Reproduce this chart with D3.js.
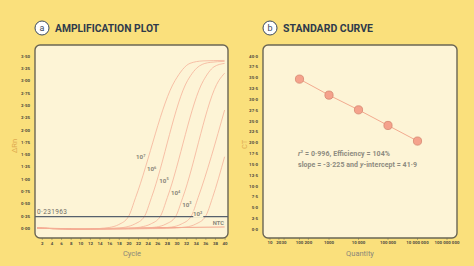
<!DOCTYPE html>
<html>
<head>
<meta charset="utf-8">
<script src="https://cdn.jsdelivr.net/npm/d3@7"></script>
<style>
html, body { margin: 0; padding: 0; background: #fae07c; }
svg { display: block; }
</style>
</head>
<body>
<div id="chart"></div>
<script>
// ---- data ----
const cycleTicks = d3.range(2, 41, 2);
const ampTicks = d3.range(0, 3.51, 0.25);
const threshold = 0.231963;

// amplification curves, [cycle, ΔRn]
const amp1e7 = [[1, 0], [6, -0.02], [10, -0.03], [14, -0.01], [16, 0.01], [18, 0.07], [20, 0.23], [21.5, 0.62], [29.7, 3.0], [32.8, 3.35], [35.5, 3.4], [40, 3.41]];
const amp1e6 = [[1, 0], [8, -0.02], [12, -0.03], [17, -0.01], [19.5, 0.02], [21.3, 0.08], [23.3, 0.23], [24.8, 0.62], [32.3, 3.0], [34.8, 3.3], [37, 3.37], [40, 3.39]];
const amp1e5 = [[1, 0], [8, -0.02], [12, -0.02], [20, -0.01], [22.6, 0.02], [24.6, 0.08], [26.6, 0.23], [28.1, 0.62], [35.6, 3.0], [37.8, 3.28], [40, 3.35]];
const amp1e4 = [[1, 0], [8, -0.02], [12, -0.02], [22, -0.01], [25.8, 0.02], [27.8, 0.08], [29.8, 0.23], [31.3, 0.62], [38.8, 3.0], [40, 3.15]];
const amp1e3 = [[1, 0], [8, -0.02], [12, -0.02], [25, -0.01], [29, 0.02], [31, 0.08], [33, 0.23], [34.5, 0.62], [40, 2.4]];
const amp1e2 = [[1, 0], [8, -0.02], [12, -0.02], [28, -0.01], [32, 0.02], [34, 0.08], [36, 0.23], [37.5, 0.62], [40, 1.45]];
const ntc = [[1, 0], [6, -0.01], [10, -0.02], [14, -0.01], [20, 0], [30, 0.01], [40, 0.02]];

const ampSeries = [amp1e7, amp1e6, amp1e5, amp1e4, amp1e3, amp1e2];
const dilutionExp = ["7", "6", "5", "4", "3", "2"];
const labelLevels = [1.45, 1.2, 0.97, 0.72, 0.48, 0.28];

// standard curve
const quantities = [100, 1000, 10000, 100000, 10000000];
const ctValues = [34.6, 30.9, 27.5, 23.9, 20.3];
const ctTicks = d3.range(0, 40.01, 2.5);
const quantityTicks = [10, 20, 30, 100, 200, 1000, 10000, 100000, 10000000, 100000000];
const quantityLabels = ["10", "20", "30", "100", "200", "1000", "10 000", "100 000", "10 000 000", "100 000 000"];

// ---- setup ----
const width = 474;
const height = 266;
const loc = d3.formatLocale({ decimal: "·", thousands: " ", grouping: [3], currency: ["", ""] });

const svg = d3.select("#chart")
    .append("svg")
    .attr("width", width)
    .attr("height", height);

svg.append("rect").attr("width", width).attr("height", height).attr("fill", "#fae07c");

const panelA = { left: 35, right: 228, top: 45, bottom: 238 };
const panelB = { left: 263, right: 457, top: 45, bottom: 238 };

function drawPanel(p, letter, title, titleLen) {
    svg.append("rect")
        .attr("x", p.left).attr("y", p.top)
        .attr("width", p.right - p.left).attr("height", p.bottom - p.top)
        .attr("rx", 5)
        .attr("fill", "#fdf4d6")
        .attr("stroke", "#6a6554")
        .attr("stroke-width", 1.4);

    const cx = p.left + 7;
    svg.append("circle")
        .attr("cx", cx).attr("cy", 28).attr("r", 7)
        .attr("fill", "#ffffff")
        .attr("stroke", "#3b4a5e")
        .attr("stroke-width", 1);
    svg.append("text")
        .attr("x", cx).attr("y", 31)
        .attr("text-anchor", "middle")
        .attr("font-family", "Roboto, sans-serif")
        .attr("font-size", 9)
        .attr("fill", "#3b4a5e")
        .text(letter);
    svg.append("text")
        .attr("x", cx + 13).attr("y", 32.3)
        .attr("font-family", "Roboto, sans-serif")
        .attr("font-weight", "bold")
        .attr("font-size", 11.5)
        .attr("fill", "#2e3a4b")
        .attr("textLength", titleLen)
        .attr("lengthAdjust", "spacingAndGlyphs")
        .text(title);
}

drawPanel(panelA, "a", "AMPLIFICATION PLOT", 104);
drawPanel(panelB, "b", "STANDARD CURVE", 90);

function styleTicks(g) {
    g.select(".domain").remove();
    g.selectAll("text")
        .attr("font-family", "Roboto, sans-serif")
        .attr("font-weight", "bold")
        .attr("font-size", 4.4)
        .attr("fill", "#4d4a40");
    g.selectAll("line").attr("stroke", "#6e6a58").attr("stroke-width", 0.6);
}

// ---- amplification plot ----
const xCycle = d3.scaleLinear().domain([1, 40.5]).range([37, 227]);
const yAmp = d3.scaleLinear().domain([0, 3.5]).range([228, 56]);

svg.append("g")
    .attr("transform", `translate(${panelA.left},0)`)
    .call(d3.axisLeft(yAmp).tickValues(ampTicks).tickFormat(loc.format(".2f")).tickSize(0).tickPadding(5))
    .call(styleTicks);

svg.append("g")
    .attr("transform", `translate(0,${panelA.bottom})`)
    .call(d3.axisBottom(xCycle).tickValues(cycleTicks).tickSize(1.8).tickPadding(1.6))
    .call(styleTicks);

svg.append("text")
    .attr("transform", `translate(16.5,${yAmp(1.75) + 4})rotate(-90)`)
    .attr("text-anchor", "middle")
    .attr("font-family", "Roboto, sans-serif")
    .attr("font-size", 7.5)
    .attr("fill", "#deaa50")
    .text("ΔRn");

svg.append("text")
    .attr("x", (xCycle(1) + xCycle(40.5)) / 2).attr("y", 255.5)
    .attr("text-anchor", "middle")
    .attr("font-family", "Roboto, sans-serif")
    .attr("font-size", 7.5)
    .attr("fill", "#8a877a")
    .text("Cycle");

svg.append("clipPath").attr("id", "clipA")
    .append("rect")
    .attr("x", panelA.left).attr("y", panelA.top)
    .attr("width", panelA.right - panelA.left).attr("height", panelA.bottom - panelA.top);

const ampLine = d3.line()
    .x(d => xCycle(d[0]))
    .y(d => yAmp(d[1]))
    .curve(d3.curveMonotoneX);

const plotA = svg.append("g").attr("clip-path", "url(#clipA)");

plotA.append("path")
    .datum(ntc)
    .attr("fill", "none")
    .attr("stroke", "#f3a58d")
    .attr("stroke-width", 1.1)
    .attr("d", ampLine);

plotA.selectAll(".amp")
    .data(ampSeries)
    .join("path")
    .attr("class", "amp")
    .attr("fill", "none")
    .attr("stroke", "#f4ae95")
    .attr("stroke-width", 0.75)
    .attr("d", ampLine);

// threshold
plotA.append("line")
    .attr("x1", panelA.left).attr("x2", panelA.right)
    .attr("y1", yAmp(threshold)).attr("y2", yAmp(threshold))
    .attr("stroke", "#56606c")
    .attr("stroke-width", 1.1);

svg.append("text")
    .attr("x", 37).attr("y", yAmp(threshold) - 2.5)
    .attr("font-family", "Roboto, sans-serif")
    .attr("font-size", 6.5)
    .attr("fill", "#6f6d66")
    .attr("textLength", 30)
    .text(loc.format(".6f")(threshold));

// x position on a curve where it reaches a given level
function crossingCycle(series, level) {
    for (let i = 1; i < series.length; i++) {
        const a = series[i - 1], b = series[i];
        if (a[1] <= level && b[1] >= level && b[1] > a[1]) {
            return a[0] + (level - a[1]) / (b[1] - a[1]) * (b[0] - a[0]);
        }
    }
    return series[series.length - 1][0];
}

const labelsA = svg.append("g")
    .attr("font-family", "Roboto, sans-serif")
    .attr("font-weight", "bold")
    .attr("font-size", 6.2)
    .attr("fill", "#8a877a");

ampSeries.forEach((s, i) => {
    const lx = xCycle(crossingCycle(s, labelLevels[i])) - 4;
    const ly = yAmp(labelLevels[i]);
    if (i === ampSeries.length - 1) {
        labelsA.append("rect")
            .attr("x", lx - 9).attr("y", ly - 3.5)
            .attr("width", 10).attr("height", 7)
            .attr("fill", "#fdf4d6");
    }
    const t = labelsA.append("text")
        .attr("x", lx).attr("y", ly + 2.2)
        .attr("text-anchor", "end");
    t.append("tspan").text("10");
    t.append("tspan").attr("font-size", 3.9).attr("dy", -2.3).text(dilutionExp[i]);
});

labelsA.append("text")
    .attr("x", 224).attr("y", yAmp(0.08) + 0.5)
    .attr("text-anchor", "end")
    .attr("font-size", 5.8)
    .text("NTC");

// ---- standard curve ----
// quantity axis: decades with the 10^6 decade left out
const qIndex = d3.scaleLinear().domain([0, 6]).range([270, 447]);
const qx = v => qIndex(Math.log10(v) - (v > 1e6 ? 2 : 1));
const yCt = d3.scaleLinear().domain([0, 40]).range([229, 55.7]);

svg.append("g")
    .attr("transform", `translate(${panelB.left},0)`)
    .call(d3.axisLeft(yCt).tickValues(ctTicks).tickFormat(loc.format(".1f")).tickSize(0).tickPadding(5))
    .call(styleTicks);

const qAxis = svg.append("g").attr("transform", `translate(0,${panelB.bottom})`);
qAxis.selectAll("line")
    .data(quantityTicks)
    .join("line")
    .attr("x1", d => qx(d)).attr("x2", d => qx(d))
    .attr("y1", 0).attr("y2", 1.8)
    .attr("stroke", "#6e6a58")
    .attr("stroke-width", 0.6);
qAxis.selectAll("text")
    .data(quantityTicks)
    .join("text")
    .attr("x", d => qx(d))
    .attr("y", 6.2)
    .attr("text-anchor", "middle")
    .attr("font-family", "Roboto, sans-serif")
    .attr("font-weight", "bold")
    .attr("font-size", 4.4)
    .attr("fill", "#4d4a40")
    .text((d, i) => quantityLabels[i]);

svg.append("text")
    .attr("transform", `translate(246.5,${yCt(20) + 2})rotate(-90)`)
    .attr("text-anchor", "middle")
    .attr("font-family", "Roboto, sans-serif")
    .attr("font-size", 7.5)
    .attr("fill", "#deaa50")
    .text("CT");

svg.append("text")
    .attr("x", (panelB.left + panelB.right) / 2).attr("y", 255.5)
    .attr("text-anchor", "middle")
    .attr("font-family", "Roboto, sans-serif")
    .attr("font-size", 7.5)
    .attr("fill", "#8a877a")
    .text("Quantity");

const stdPoints = quantities.map((q, i) => [q, ctValues[i]]);

svg.append("path")
    .datum(stdPoints)
    .attr("fill", "none")
    .attr("stroke", "#f0a287")
    .attr("stroke-width", 0.9)
    .attr("d", d3.line().x(d => qx(d[0])).y(d => yCt(d[1])));

svg.selectAll(".pt")
    .data(stdPoints)
    .join("circle")
    .attr("class", "pt")
    .attr("cx", d => qx(d[0]))
    .attr("cy", d => yCt(d[1]))
    .attr("r", 4.1)
    .attr("fill", "#f5a28c")
    .attr("stroke", "#d48670")
    .attr("stroke-width", 0.8);

const ann = svg.append("text")
    .attr("x", 298).attr("y", 156)
    .attr("font-family", "Roboto, sans-serif")
    .attr("font-weight", "bold")
    .attr("font-size", 7)
    .attr("fill", "#8d8b80")
    .attr("textLength", 92);
ann.append("tspan").attr("font-style", "italic").text("r");
ann.append("tspan").attr("font-size", 4.4).attr("dy", -2.6).text("2");
ann.append("tspan").attr("dy", 2.6).text(" = 0·996, Efficiency = 104%");

const ann2 = svg.append("text")
    .attr("x", 298).attr("y", 166.5)
    .attr("font-family", "Roboto, sans-serif")
    .attr("font-weight", "bold")
    .attr("font-size", 7)
    .attr("fill", "#8d8b80")
    .attr("textLength", 119);
ann2.append("tspan").text("slope = -3·225 and ");
ann2.append("tspan").attr("font-style", "italic").text("y");
ann2.append("tspan").text("-intercept = 41·9");
</script>
</body>
</html>
